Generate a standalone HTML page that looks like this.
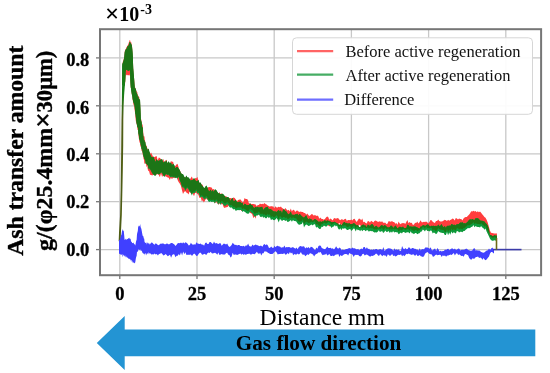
<!DOCTYPE html>
<html><head><meta charset="utf-8"><style>
html,body{margin:0;padding:0;background:#fff;}
body{width:550px;height:373px;overflow:hidden;}
svg{display:block;filter:blur(0.4px);}
text{font-family:'Liberation Serif', 'Times New Roman', serif;}
</style></head><body>
<svg width="550" height="373" viewBox="0 0 550 373">
<defs><linearGradient id="lg" gradientUnits="userSpaceOnUse" x1="0" y1="92" x2="0" y2="118"><stop offset="0" stop-color="#137d18"/><stop offset="1" stop-color="#4e5c12"/></linearGradient><filter id="bl" x="-5%" y="-5%" width="110%" height="110%"><feGaussianBlur stdDeviation="0.6"/></filter></defs>
<rect width="550" height="373" fill="#fff"/>
<g stroke="#c8c8c8" stroke-width="1.3"><line x1="119.8" y1="29" x2="119.8" y2="275"/><line x1="197.0" y1="29" x2="197.0" y2="275"/><line x1="274.2" y1="29" x2="274.2" y2="275"/><line x1="351.4" y1="29" x2="351.4" y2="275"/><line x1="428.6" y1="29" x2="428.6" y2="275"/><line x1="505.8" y1="29" x2="505.8" y2="275"/><line x1="100" y1="249.6" x2="541" y2="249.6"/><line x1="100" y1="201.7" x2="541" y2="201.7"/><line x1="100" y1="153.8" x2="541" y2="153.8"/><line x1="100" y1="105.8" x2="541" y2="105.8"/><line x1="100" y1="57.9" x2="541" y2="57.9"/></g>
<g filter="url(#bl)" stroke-linejoin="round">
<polygon fill="#ff3c3c" points="122.4,64.0 122.8,61.9 123.2,60.5 123.6,59.7 124.0,58.1 124.4,54.9 124.8,51.1 125.2,50.0 125.6,48.8 126.0,49.3 126.4,46.9 126.8,47.0 127.2,45.9 127.6,45.6 128.0,45.1 128.4,43.9 128.8,42.5 129.2,41.7 129.6,40.2 130.0,39.9 130.4,41.5 130.8,42.5 131.2,42.3 131.6,44.0 132.0,45.8 132.4,50.7 132.8,56.8 133.2,68.0 133.6,73.4 134.0,77.5 134.4,81.9 134.8,85.9 135.2,87.7 135.6,88.3 136.0,89.4 136.4,91.2 136.8,91.6 137.2,92.1 137.6,94.2 138.0,95.7 138.4,95.7 138.8,96.8 139.2,97.0 139.6,100.3 140.0,100.7 140.4,109.8 140.8,118.3 141.2,119.5 141.6,121.8 142.0,124.8 142.4,124.1 142.8,126.3 143.2,132.0 143.6,135.7 144.0,136.5 144.4,136.3 144.8,139.9 145.2,141.3 145.6,145.6 146.0,144.5 146.4,146.0 146.8,145.8 147.2,148.3 147.6,148.8 148.0,149.5 148.4,151.9 148.8,150.7 149.2,152.3 149.6,152.2 150.0,154.1 151.1,152.6 152.2,154.9 153.3,156.9 154.4,157.0 155.5,156.6 156.6,156.0 157.7,160.4 158.8,157.4 159.9,158.1 161.0,159.2 162.1,161.0 163.2,158.8 164.3,162.7 165.4,160.5 166.5,159.8 167.6,163.7 168.7,162.9 169.8,164.9 170.9,161.0 172.0,161.7 173.1,161.8 174.2,166.9 175.3,166.0 176.4,164.5 177.5,163.7 178.6,167.3 179.7,170.8 180.8,172.0 181.9,174.9 183.0,176.2 184.1,177.6 185.2,177.0 186.3,177.2 187.4,177.9 188.5,178.1 189.6,179.4 190.7,178.3 191.8,176.5 192.9,178.9 194.0,181.1 195.1,178.0 196.2,178.6 197.3,176.7 198.4,180.3 199.5,182.4 200.6,185.0 201.7,184.0 202.8,185.2 203.9,189.3 205.0,189.1 206.1,187.1 207.2,188.2 208.3,187.2 209.4,186.9 210.5,187.3 211.6,187.4 212.7,189.5 213.8,189.1 214.9,191.1 216.0,190.9 217.1,194.0 218.2,193.9 219.3,192.0 220.4,193.9 221.5,193.3 222.6,194.7 223.7,195.2 224.8,196.6 225.9,196.1 227.0,197.0 228.1,197.7 229.2,198.0 230.3,198.0 231.4,198.6 232.5,197.9 233.6,197.6 234.7,198.1 235.8,199.6 236.9,201.8 238.0,199.9 239.1,199.7 240.2,199.3 241.3,200.6 242.4,202.6 243.5,201.7 244.6,198.1 245.7,199.0 246.8,198.9 247.9,199.7 249.0,203.5 250.1,203.2 251.2,204.0 252.3,204.0 253.4,204.0 254.5,204.2 255.6,204.5 256.7,206.3 257.8,204.9 258.9,204.9 260.0,203.5 261.1,204.2 262.2,203.8 263.3,204.2 264.4,203.0 265.5,203.9 266.6,204.5 267.7,205.6 268.8,206.0 269.9,206.7 271.0,206.1 272.1,206.6 273.2,206.3 274.3,208.2 275.4,206.3 276.5,207.6 277.6,207.4 278.7,206.7 279.8,207.2 280.9,206.6 282.0,207.9 283.1,208.5 284.2,209.7 285.3,208.0 286.4,209.3 287.5,210.6 288.6,209.7 289.7,211.3 290.8,208.4 291.9,211.5 293.0,209.8 294.1,210.0 295.2,212.1 296.3,210.8 297.4,210.6 298.5,211.6 299.6,212.1 300.7,211.4 301.8,212.1 302.9,212.1 304.0,213.1 305.1,212.9 306.2,214.7 307.3,213.5 308.4,215.0 309.5,215.9 310.6,215.0 311.7,214.0 312.8,214.5 313.9,215.7 315.0,214.8 316.1,216.0 317.2,215.4 318.3,216.3 319.4,218.8 320.5,217.4 321.6,218.9 322.7,219.0 323.8,219.7 324.9,218.9 326.0,217.6 327.1,216.5 328.2,217.0 329.3,219.8 330.4,218.5 331.5,219.3 332.6,220.4 333.7,218.5 334.8,218.1 335.9,218.8 337.0,218.3 338.1,218.1 339.2,219.5 340.3,220.3 341.4,219.3 342.5,219.6 343.6,220.0 344.7,218.9 345.8,218.7 346.9,220.9 348.0,220.1 349.1,219.9 350.2,220.2 351.3,219.5 352.4,220.4 353.5,219.0 354.6,218.7 355.7,220.7 356.8,222.1 357.9,220.0 359.0,218.5 360.1,219.1 361.2,220.2 362.3,218.5 363.4,222.2 364.5,221.8 365.6,223.1 366.7,223.6 367.8,220.9 368.9,221.3 370.0,222.5 371.1,220.8 372.2,221.4 373.3,222.4 374.4,220.9 375.5,220.6 376.6,220.9 377.7,221.7 378.8,221.7 379.9,221.3 381.0,222.1 382.1,221.3 383.2,222.7 384.3,222.8 385.4,222.7 386.5,224.2 387.6,223.4 388.7,221.0 389.8,221.6 390.9,221.8 392.0,220.9 393.1,222.0 394.2,222.1 395.3,223.8 396.4,223.1 397.5,224.7 398.6,221.5 399.7,223.5 400.8,224.2 401.9,222.9 403.0,223.3 404.1,223.1 405.2,224.0 406.3,222.0 407.4,220.1 408.5,223.3 409.6,222.0 410.7,222.9 411.8,222.8 412.9,224.9 414.0,224.4 415.1,222.8 416.2,223.1 417.3,221.4 418.4,223.4 419.5,222.3 420.6,220.2 421.7,222.3 422.8,222.2 423.9,221.8 425.0,222.1 426.1,221.5 427.2,222.3 428.3,223.2 429.4,222.0 430.5,219.9 431.6,220.3 432.7,221.8 433.8,222.5 434.9,223.1 436.0,221.0 437.1,221.0 438.2,219.4 439.3,220.9 440.4,221.5 441.5,221.6 442.6,221.3 443.7,220.6 444.8,219.7 445.9,220.3 447.0,221.1 448.1,219.7 449.2,220.7 450.3,220.1 451.4,219.6 452.5,218.5 453.6,218.9 454.7,220.4 455.8,218.0 456.9,218.6 458.0,219.6 459.1,218.5 460.2,219.0 461.3,219.0 462.4,220.6 463.5,218.6 464.6,217.6 465.7,216.9 466.8,216.9 467.9,215.7 469.0,214.8 470.1,213.3 471.2,211.2 472.3,211.6 473.4,210.8 474.5,211.5 475.6,211.1 476.7,212.3 477.8,211.2 478.9,212.2 480.0,211.6 481.1,212.7 482.2,214.2 483.3,215.4 484.4,216.9 485.5,217.7 486.6,219.7 487.7,222.5 488.8,226.6 489.9,230.4 491.0,232.7 492.1,232.9 493.2,233.2 494.3,233.4 495.4,233.5 496.5,233.4 496.9,233.3 496.9,237.2 496.5,237.7 495.4,237.3 494.3,237.0 493.2,236.7 492.1,237.3 491.0,236.7 489.9,235.5 488.8,232.6 487.7,230.3 486.6,227.7 485.5,226.6 484.4,224.5 483.3,223.3 482.2,222.5 481.1,223.3 480.0,224.1 478.9,224.0 477.8,223.9 476.7,223.3 475.6,222.5 474.5,222.5 473.4,224.5 472.3,224.1 471.2,223.9 470.1,223.1 469.0,225.6 467.9,226.2 466.8,225.7 465.7,226.9 464.6,227.1 463.5,226.9 462.4,227.1 461.3,226.3 460.2,228.1 459.1,228.5 458.0,229.4 456.9,228.5 455.8,229.9 454.7,228.5 453.6,229.0 452.5,227.7 451.4,227.0 450.3,228.1 449.2,231.3 448.1,231.3 447.0,230.3 445.9,230.1 444.8,231.6 443.7,230.1 442.6,230.0 441.5,230.6 440.4,230.3 439.3,230.3 438.2,229.8 437.1,229.2 436.0,229.0 434.9,230.1 433.8,230.8 432.7,229.3 431.6,228.9 430.5,229.8 429.4,230.7 428.3,230.8 427.2,229.3 426.1,229.6 425.0,230.3 423.9,227.9 422.8,229.0 421.7,229.4 420.6,229.7 419.5,229.3 418.4,229.5 417.3,229.6 416.2,230.2 415.1,231.0 414.0,230.4 412.9,230.1 411.8,229.5 410.7,229.0 409.6,227.2 408.5,227.7 407.4,227.8 406.3,228.2 405.2,228.6 404.1,230.6 403.0,229.0 401.9,228.9 400.8,229.4 399.7,230.8 398.6,229.5 397.5,229.0 396.4,229.8 395.3,227.9 394.2,228.3 393.1,227.3 392.0,228.6 390.9,227.5 389.8,228.2 388.7,228.8 387.6,231.2 386.5,230.7 385.4,230.1 384.3,229.9 383.2,229.1 382.1,229.4 381.0,228.4 379.9,227.2 378.8,227.2 377.7,228.9 376.6,226.9 375.5,227.8 374.4,226.8 373.3,226.9 372.2,227.5 371.1,228.4 370.0,227.5 368.9,227.4 367.8,229.3 366.7,229.3 365.6,229.4 364.5,228.2 363.4,226.7 362.3,226.1 361.2,226.3 360.1,225.3 359.0,224.4 357.9,227.6 356.8,227.2 355.7,228.9 354.6,227.6 353.5,226.2 352.4,225.6 351.3,225.9 350.2,226.9 349.1,226.6 348.0,225.4 346.9,225.0 345.8,224.8 344.7,226.5 343.6,227.0 342.5,225.7 341.4,224.8 340.3,223.9 339.2,222.7 338.1,224.8 337.0,224.0 335.9,223.0 334.8,225.1 333.7,225.3 332.6,223.7 331.5,225.8 330.4,225.5 329.3,226.5 328.2,225.4 327.1,223.3 326.0,223.3 324.9,224.1 323.8,226.5 322.7,223.2 321.6,224.9 320.5,223.1 319.4,223.2 318.3,222.7 317.2,222.0 316.1,223.0 315.0,220.5 313.9,222.3 312.8,223.8 311.7,222.3 310.6,222.2 309.5,221.6 308.4,223.0 307.3,222.2 306.2,221.8 305.1,223.0 304.0,220.8 302.9,219.5 301.8,222.1 300.7,221.5 299.6,220.6 298.5,222.2 297.4,221.0 296.3,218.7 295.2,220.3 294.1,218.2 293.0,217.9 291.9,218.0 290.8,218.5 289.7,219.6 288.6,218.0 287.5,218.1 286.4,218.1 285.3,219.3 284.2,217.7 283.1,216.8 282.0,215.5 280.9,216.4 279.8,216.1 278.7,216.3 277.6,215.8 276.5,216.4 275.4,216.0 274.3,215.4 273.2,215.9 272.1,215.6 271.0,215.0 269.9,217.2 268.8,215.6 267.7,216.7 266.6,214.6 265.5,213.1 264.4,214.0 263.3,214.7 262.2,216.1 261.1,215.2 260.0,214.4 258.9,214.7 257.8,214.5 256.7,213.5 255.6,218.7 254.5,215.9 253.4,218.2 252.3,214.5 251.2,213.3 250.1,213.1 249.0,211.6 247.9,212.9 246.8,210.4 245.7,209.8 244.6,209.4 243.5,209.4 242.4,210.7 241.3,211.0 240.2,208.8 239.1,209.8 238.0,207.1 236.9,210.1 235.8,207.6 234.7,209.2 233.6,206.9 232.5,207.9 231.4,206.8 230.3,206.0 229.2,204.8 228.1,206.4 227.0,207.2 225.9,207.2 224.8,207.9 223.7,207.2 222.6,203.9 221.5,204.4 220.4,202.6 219.3,204.0 218.2,204.6 217.1,203.0 216.0,202.0 214.9,203.2 213.8,202.0 212.7,199.4 211.6,201.8 210.5,198.8 209.4,198.3 208.3,200.3 207.2,199.5 206.1,198.6 205.0,200.4 203.9,202.4 202.8,200.6 201.7,201.1 200.6,196.5 199.5,198.3 198.4,194.8 197.3,194.0 196.2,192.7 195.1,193.0 194.0,196.3 192.9,193.7 191.8,192.6 190.7,193.3 189.6,191.5 188.5,194.5 187.4,193.0 186.3,192.5 185.2,191.0 184.1,191.9 183.0,194.1 181.9,189.7 180.8,185.6 179.7,183.4 178.6,182.0 177.5,179.8 176.4,176.4 175.3,178.3 174.2,177.9 173.1,177.4 172.0,179.2 170.9,177.5 169.8,180.0 168.7,177.7 167.6,177.4 166.5,176.7 165.4,176.2 164.3,176.3 163.2,175.0 162.1,177.1 161.0,173.3 159.9,177.2 158.8,175.0 157.7,174.0 156.6,175.0 155.5,172.6 154.4,173.8 153.3,174.8 152.2,175.5 151.1,175.1 150.0,174.8 149.6,173.3 149.2,171.5 148.8,170.7 148.4,171.3 148.0,170.0 147.6,168.4 147.2,165.0 146.8,167.2 146.4,166.3 146.0,163.7 145.6,164.1 145.2,163.1 144.8,163.4 144.4,164.0 144.0,159.5 143.6,159.3 143.2,156.0 142.8,155.0 142.4,152.2 142.0,151.0 141.6,151.0 141.2,147.1 140.8,146.7 140.4,146.2 140.0,141.8 139.6,143.3 139.2,140.6 138.8,137.9 138.4,134.7 138.0,130.1 137.6,130.0 137.2,127.2 136.8,124.2 136.4,123.5 136.0,122.0 135.6,119.1 135.2,114.6 134.8,110.9 134.4,108.8 134.0,105.5 133.6,105.0 133.2,103.3 132.8,100.5 132.4,98.6 132.0,94.9 131.6,93.5 131.2,89.6 130.8,88.0 130.4,83.2 130.0,75.0 129.6,74.4 129.2,75.9 128.8,74.9 128.4,75.6 128.0,75.0 127.6,75.4 127.2,74.7 126.8,74.7 126.4,75.5 126.0,74.6 125.6,76.1 125.2,82.5 124.8,85.2 124.4,85.9 124.0,85.1 123.6,84.7 123.2,85.1 122.8,84.7 122.4,84.9"/>
<polygon fill="#0e9a3a" points="122.4,64.3 122.8,63.0 123.2,61.7 123.6,61.1 124.0,58.6 124.4,56.4 124.8,51.9 125.2,50.7 125.6,49.9 126.0,49.2 126.4,48.8 126.8,48.5 127.2,47.3 127.6,46.3 128.0,45.7 128.4,45.9 128.8,45.1 129.2,43.7 129.6,42.3 130.0,42.1 130.4,42.9 130.8,43.4 131.2,44.3 131.6,44.9 132.0,46.7 132.4,51.2 132.8,56.6 133.2,68.6 133.6,73.4 134.0,77.2 134.4,84.3 134.8,88.0 135.2,88.6 135.6,88.4 136.0,89.7 136.4,93.2 136.8,92.7 137.2,94.2 137.6,95.7 138.0,97.9 138.4,96.3 138.8,99.0 139.2,98.9 139.6,100.1 140.0,99.3 140.4,109.0 140.8,118.9 141.2,121.1 141.6,122.5 142.0,126.6 142.4,127.2 142.8,128.2 143.2,135.6 143.6,138.7 144.0,140.7 144.4,139.9 144.8,142.3 145.2,142.1 145.6,144.6 146.0,145.6 146.4,147.3 146.8,147.2 147.2,149.0 147.6,150.9 148.0,148.9 148.4,149.6 148.8,148.5 149.2,151.3 149.6,152.2 150.0,153.9 151.1,156.5 152.2,157.4 153.3,156.5 154.4,159.3 155.5,161.9 156.6,159.0 157.7,161.0 158.8,160.8 159.9,160.3 161.0,159.6 162.1,159.2 163.2,162.7 164.3,161.6 165.4,162.1 166.5,160.4 167.6,163.5 168.7,161.2 169.8,163.4 170.9,162.6 172.0,165.5 173.1,163.7 174.2,165.0 175.3,168.3 176.4,167.3 177.5,166.9 178.6,168.8 179.7,170.1 180.8,173.0 181.9,174.1 183.0,174.2 184.1,176.5 185.2,178.3 186.3,175.5 187.4,177.5 188.5,177.4 189.6,179.1 190.7,180.8 191.8,179.9 192.9,179.9 194.0,178.0 195.1,179.9 196.2,181.2 197.3,181.1 198.4,180.0 199.5,183.2 200.6,182.6 201.7,185.2 202.8,186.2 203.9,188.1 205.0,187.8 206.1,185.5 207.2,187.0 208.3,190.3 209.4,191.5 210.5,189.6 211.6,191.7 212.7,190.1 213.8,192.0 214.9,189.6 216.0,189.8 217.1,191.6 218.2,193.2 219.3,193.5 220.4,193.9 221.5,194.1 222.6,193.8 223.7,194.8 224.8,196.3 225.9,198.0 227.0,197.1 228.1,196.9 229.2,198.3 230.3,201.0 231.4,199.1 232.5,197.9 233.6,201.5 234.7,200.7 235.8,199.7 236.9,202.1 238.0,202.2 239.1,201.7 240.2,201.7 241.3,203.3 242.4,202.4 243.5,205.8 244.6,203.7 245.7,204.3 246.8,205.2 247.9,204.9 249.0,205.1 250.1,203.5 251.2,204.9 252.3,205.2 253.4,207.5 254.5,208.0 255.6,206.7 256.7,207.6 257.8,206.8 258.9,207.7 260.0,207.3 261.1,207.1 262.2,206.8 263.3,210.1 264.4,208.5 265.5,207.5 266.6,207.0 267.7,206.8 268.8,209.4 269.9,209.0 271.0,209.3 272.1,210.2 273.2,211.2 274.3,211.4 275.4,211.5 276.5,212.1 277.6,210.9 278.7,210.1 279.8,211.5 280.9,210.5 282.0,213.5 283.1,209.6 284.2,209.6 285.3,211.1 286.4,211.5 287.5,213.6 288.6,214.5 289.7,213.5 290.8,211.5 291.9,214.9 293.0,214.4 294.1,215.2 295.2,214.3 296.3,214.3 297.4,213.8 298.5,215.6 299.6,213.7 300.7,215.0 301.8,216.3 302.9,217.0 304.0,217.7 305.1,216.4 306.2,215.3 307.3,218.0 308.4,219.5 309.5,218.6 310.6,219.0 311.7,219.5 312.8,220.9 313.9,219.8 315.0,219.0 316.1,219.8 317.2,220.6 318.3,221.7 319.4,221.8 320.5,221.6 321.6,222.0 322.7,221.2 323.8,221.4 324.9,219.8 326.0,221.5 327.1,220.4 328.2,220.8 329.3,221.3 330.4,221.4 331.5,222.3 332.6,222.3 333.7,222.0 334.8,221.7 335.9,222.7 337.0,223.0 338.1,224.1 339.2,224.9 340.3,224.1 341.4,225.4 342.5,224.1 343.6,222.6 344.7,222.1 345.8,223.6 346.9,222.8 348.0,223.9 349.1,223.1 350.2,224.1 351.3,223.9 352.4,224.1 353.5,223.3 354.6,223.4 355.7,224.7 356.8,225.5 357.9,224.9 359.0,226.9 360.1,227.2 361.2,225.7 362.3,225.1 363.4,224.5 364.5,225.6 365.6,225.4 366.7,227.3 367.8,224.4 368.9,225.3 370.0,226.0 371.1,224.5 372.2,224.1 373.3,225.3 374.4,227.0 375.5,226.2 376.6,225.7 377.7,227.4 378.8,227.6 379.9,226.7 381.0,225.4 382.1,225.1 383.2,226.5 384.3,225.2 385.4,225.6 386.5,226.5 387.6,227.4 388.7,227.6 389.8,227.0 390.9,225.6 392.0,225.9 393.1,227.7 394.2,227.1 395.3,225.4 396.4,226.7 397.5,228.4 398.6,227.5 399.7,226.7 400.8,226.9 401.9,227.5 403.0,226.6 404.1,228.3 405.2,228.1 406.3,227.9 407.4,224.8 408.5,224.9 409.6,226.8 410.7,226.4 411.8,226.8 412.9,226.7 414.0,226.4 415.1,226.6 416.2,227.0 417.3,227.4 418.4,227.9 419.5,228.7 420.6,226.4 421.7,226.4 422.8,225.2 423.9,225.2 425.0,226.0 426.1,225.4 427.2,224.4 428.3,224.4 429.4,225.9 430.5,226.5 431.6,225.8 432.7,226.0 433.8,225.8 434.9,226.3 436.0,225.7 437.1,226.5 438.2,224.4 439.3,226.1 440.4,225.7 441.5,224.1 442.6,226.2 443.7,227.2 444.8,226.0 445.9,228.1 447.0,225.8 448.1,225.9 449.2,225.5 450.3,226.1 451.4,223.9 452.5,224.5 453.6,225.0 454.7,224.8 455.8,225.6 456.9,224.1 458.0,224.4 459.1,223.8 460.2,222.6 461.3,222.8 462.4,222.3 463.5,223.6 464.6,223.2 465.7,223.5 466.8,222.6 467.9,221.4 469.0,219.9 470.1,219.3 471.2,219.7 472.3,219.1 473.4,219.8 474.5,220.1 475.6,218.2 476.7,218.2 477.8,218.3 478.9,218.9 480.0,220.4 481.1,220.7 482.2,220.7 483.3,221.2 484.4,221.4 485.5,222.9 486.6,223.9 487.7,225.6 488.8,229.1 489.9,235.1 491.0,234.9 492.1,236.0 493.2,236.2 494.3,235.3 495.4,235.5 496.5,235.7 496.9,235.3 496.9,240.9 496.5,240.9 495.4,240.6 494.3,240.2 493.2,240.8 492.1,240.7 491.0,240.0 489.9,238.5 488.8,236.0 487.7,233.8 486.6,231.6 485.5,228.6 484.4,229.7 483.3,228.1 482.2,227.5 481.1,226.1 480.0,227.6 478.9,227.0 477.8,227.0 476.7,226.7 475.6,226.1 474.5,227.3 473.4,225.1 472.3,226.7 471.2,226.9 470.1,227.9 469.0,228.3 467.9,228.1 466.8,229.1 465.7,229.8 464.6,231.0 463.5,231.0 462.4,232.3 461.3,231.8 460.2,231.7 459.1,232.4 458.0,231.3 456.9,231.1 455.8,233.5 454.7,232.8 453.6,232.2 452.5,233.5 451.4,231.5 450.3,234.8 449.2,232.6 448.1,235.2 447.0,232.1 445.9,234.9 444.8,235.0 443.7,233.1 442.6,232.9 441.5,232.7 440.4,232.5 439.3,232.0 438.2,231.0 437.1,233.2 436.0,234.2 434.9,232.9 433.8,232.6 432.7,233.5 431.6,230.8 430.5,230.5 429.4,231.6 428.3,230.7 427.2,230.9 426.1,229.3 425.0,231.6 423.9,230.3 422.8,229.5 421.7,231.6 420.6,231.7 419.5,233.3 418.4,233.4 417.3,234.2 416.2,232.9 415.1,232.9 414.0,234.3 412.9,233.3 411.8,233.3 410.7,231.3 409.6,233.4 408.5,232.2 407.4,232.3 406.3,232.5 405.2,232.9 404.1,232.1 403.0,232.1 401.9,233.4 400.8,232.6 399.7,233.6 398.6,234.2 397.5,232.2 396.4,232.2 395.3,231.9 394.2,232.6 393.1,231.1 392.0,232.7 390.9,231.4 389.8,232.9 388.7,231.0 387.6,231.7 386.5,232.0 385.4,230.6 384.3,231.9 383.2,233.0 382.1,230.9 381.0,231.6 379.9,232.0 378.8,230.2 377.7,231.7 376.6,232.6 375.5,232.3 374.4,232.6 373.3,231.8 372.2,231.1 371.1,231.2 370.0,230.7 368.9,231.7 367.8,230.3 366.7,230.3 365.6,231.2 364.5,230.1 363.4,229.9 362.3,231.3 361.2,229.7 360.1,231.2 359.0,229.8 357.9,230.2 356.8,229.0 355.7,231.4 354.6,228.7 353.5,228.5 352.4,229.9 351.3,230.9 350.2,229.0 349.1,229.3 348.0,229.9 346.9,230.0 345.8,228.6 344.7,228.3 343.6,228.8 342.5,228.3 341.4,230.3 340.3,228.2 339.2,229.7 338.1,228.4 337.0,225.5 335.9,226.5 334.8,224.9 333.7,226.5 332.6,226.8 331.5,228.0 330.4,226.2 329.3,225.3 328.2,224.8 327.1,226.1 326.0,226.8 324.9,225.9 323.8,225.4 322.7,227.0 321.6,226.8 320.5,228.9 319.4,229.0 318.3,228.0 317.2,226.7 316.1,227.7 315.0,224.3 313.9,224.3 312.8,225.5 311.7,224.5 310.6,225.0 309.5,225.7 308.4,225.9 307.3,224.9 306.2,224.5 305.1,225.5 304.0,227.5 302.9,221.9 301.8,224.0 300.7,224.2 299.6,224.8 298.5,224.4 297.4,223.2 296.3,221.6 295.2,221.1 294.1,220.9 293.0,220.1 291.9,221.7 290.8,220.0 289.7,221.0 288.6,221.7 287.5,222.0 286.4,220.2 285.3,220.9 284.2,220.0 283.1,220.1 282.0,221.3 280.9,219.5 279.8,219.2 278.7,222.4 277.6,219.6 276.5,218.1 275.4,219.4 274.3,220.2 273.2,220.0 272.1,219.1 271.0,220.3 269.9,217.0 268.8,218.2 267.7,216.5 266.6,218.3 265.5,218.3 264.4,217.0 263.3,217.8 262.2,216.3 261.1,217.2 260.0,216.4 258.9,214.2 257.8,215.6 256.7,215.3 255.6,216.2 254.5,216.7 253.4,214.7 252.3,213.0 251.2,212.7 250.1,211.2 249.0,213.5 247.9,213.8 246.8,213.4 245.7,212.5 244.6,211.8 243.5,211.0 242.4,212.0 241.3,210.0 240.2,210.0 239.1,210.3 238.0,209.9 236.9,210.3 235.8,211.1 234.7,209.1 233.6,209.4 232.5,208.5 231.4,207.2 230.3,207.7 229.2,206.7 228.1,204.8 227.0,204.2 225.9,205.5 224.8,205.9 223.7,205.0 222.6,203.7 221.5,202.8 220.4,205.0 219.3,202.6 218.2,204.8 217.1,201.9 216.0,201.3 214.9,203.4 213.8,201.7 212.7,201.7 211.6,202.0 210.5,201.3 209.4,201.9 208.3,201.2 207.2,198.7 206.1,197.8 205.0,199.4 203.9,198.9 202.8,197.5 201.7,196.6 200.6,198.1 199.5,195.2 198.4,192.7 197.3,193.5 196.2,190.7 195.1,192.9 194.0,193.0 192.9,193.1 191.8,195.5 190.7,192.6 189.6,191.8 188.5,189.6 187.4,188.0 186.3,189.0 185.2,190.9 184.1,187.4 183.0,187.8 181.9,186.7 180.8,182.8 179.7,180.7 178.6,176.8 177.5,178.7 176.4,177.7 175.3,178.1 174.2,177.0 173.1,177.8 172.0,176.5 170.9,177.5 169.8,176.5 168.7,174.8 167.6,175.0 166.5,174.3 165.4,174.8 164.3,177.1 163.2,175.4 162.1,173.0 161.0,172.6 159.9,174.1 158.8,174.6 157.7,173.8 156.6,173.7 155.5,175.7 154.4,175.4 153.3,174.5 152.2,173.2 151.1,170.9 150.0,169.1 149.6,169.4 149.2,167.4 148.8,168.4 148.4,168.9 148.0,164.9 147.6,165.4 147.2,165.0 146.8,164.0 146.4,163.7 146.0,164.2 145.6,162.4 145.2,159.6 144.8,159.6 144.4,158.9 144.0,157.5 143.6,156.5 143.2,154.8 142.8,152.9 142.4,150.6 142.0,148.2 141.6,149.8 141.2,145.9 140.8,144.9 140.4,142.7 140.0,140.7 139.6,139.4 139.2,139.1 138.8,134.7 138.4,133.3 138.0,127.7 137.6,127.3 137.2,126.3 136.8,123.9 136.4,121.4 136.0,118.2 135.6,114.2 135.2,112.9 134.8,107.1 134.4,105.0 134.0,103.8 133.6,102.5 133.2,101.4 132.8,99.6 132.4,96.3 132.0,95.1 131.6,92.2 131.2,90.1 130.8,87.3 130.4,81.0 130.0,70.7 129.6,70.3 129.2,70.1 128.8,71.2 128.4,70.4 128.0,70.8 127.6,69.9 127.2,70.8 126.8,69.4 126.4,70.1 126.0,69.9 125.6,72.0 125.2,81.0 124.8,84.7 124.4,85.3 124.0,85.4 123.6,85.1 123.2,85.5 122.8,84.9 122.4,84.6"/>
<polygon fill="#1f7512" points="122.4,64.3 122.8,63.0 123.2,61.7 123.6,61.1 124.0,58.6 124.4,56.4 124.8,51.9 125.2,50.7 125.6,49.9 126.0,49.2 126.4,48.8 126.8,48.5 127.2,47.3 127.6,46.3 128.0,45.7 128.4,45.9 128.8,45.1 129.2,43.7 129.6,42.3 130.0,42.1 130.4,42.9 130.8,43.4 131.2,44.3 131.6,44.9 132.0,46.7 132.4,51.2 132.8,56.6 133.2,68.6 133.6,73.4 134.0,77.2 134.4,84.3 134.8,88.0 135.2,88.6 135.6,88.4 136.0,89.7 136.4,93.2 136.8,92.7 137.2,94.2 137.6,95.7 138.0,97.9 138.4,96.3 138.8,99.0 139.2,98.9 139.6,100.1 140.0,99.3 140.4,109.0 140.8,118.9 141.2,121.1 141.6,122.5 142.0,126.6 142.4,127.2 142.8,128.2 143.2,135.6 143.6,138.7 144.0,140.7 144.4,139.9 144.8,142.3 145.2,142.1 145.6,144.6 146.0,145.6 146.4,147.3 146.8,147.2 147.2,149.0 147.6,150.9 148.0,148.9 148.4,149.6 148.8,148.5 149.2,151.3 149.6,152.2 150.0,153.9 151.1,156.5 152.2,157.4 153.3,156.5 154.4,159.3 155.5,161.9 156.6,159.0 157.7,161.0 158.8,160.8 159.9,160.3 161.0,159.6 162.1,159.2 163.2,162.7 164.3,161.6 165.4,162.1 166.5,160.4 167.6,163.5 168.7,161.2 169.8,163.4 170.9,162.6 172.0,165.5 173.1,163.7 174.2,165.0 175.3,168.3 176.4,167.3 177.5,166.9 178.6,168.8 179.7,170.1 180.8,173.0 181.9,174.1 183.0,174.2 184.1,176.5 185.2,178.3 186.3,175.5 187.4,177.5 188.5,177.4 189.6,179.1 190.7,180.8 191.8,179.9 192.9,179.9 194.0,178.0 195.1,179.9 196.2,181.2 197.3,181.1 198.4,180.0 199.5,183.2 200.6,182.6 201.7,185.2 202.8,186.2 203.9,188.1 205.0,187.8 206.1,185.5 207.2,187.0 208.3,190.3 209.4,191.5 210.5,189.6 211.6,191.7 212.7,190.1 213.8,192.0 214.9,189.6 216.0,189.8 217.1,191.6 218.2,193.2 219.3,193.5 220.4,193.9 221.5,194.1 222.6,193.8 223.7,194.8 224.8,196.3 225.9,198.0 227.0,197.1 228.1,196.9 229.2,198.3 230.3,201.0 231.4,199.1 232.5,197.9 233.6,201.5 234.7,200.7 235.8,199.7 236.9,202.1 238.0,202.2 239.1,201.7 240.2,201.7 241.3,203.3 242.4,202.4 243.5,205.8 244.6,203.7 245.7,204.3 246.8,205.2 247.9,204.9 249.0,205.1 250.1,203.5 251.2,204.9 252.3,205.2 253.4,207.5 254.5,208.0 255.6,206.7 256.7,207.6 257.8,206.8 258.9,207.7 260.0,207.3 261.1,207.1 262.2,206.8 263.3,210.1 264.4,208.5 265.5,207.5 266.6,207.0 267.7,206.8 268.8,209.4 269.9,209.0 271.0,209.3 272.1,210.2 273.2,211.2 274.3,211.4 275.4,211.5 276.5,212.1 277.6,210.9 278.7,210.1 279.8,211.5 280.9,210.5 282.0,213.5 283.1,209.6 284.2,209.6 285.3,211.1 286.4,211.5 287.5,213.6 288.6,214.5 289.7,213.5 290.8,211.5 291.9,214.9 293.0,214.4 294.1,215.2 295.2,214.3 296.3,214.3 297.4,213.8 298.5,215.6 299.6,213.7 300.7,215.0 301.8,216.3 302.9,217.0 304.0,217.7 305.1,216.4 306.2,215.3 307.3,218.0 308.4,219.5 309.5,218.6 310.6,219.0 311.7,219.5 312.8,220.9 313.9,219.8 315.0,219.0 316.1,219.8 317.2,220.6 318.3,221.7 319.4,221.8 320.5,221.6 321.6,222.0 322.7,221.2 323.8,221.4 324.9,219.8 326.0,221.5 327.1,220.4 328.2,220.8 329.3,221.3 330.4,221.4 331.5,222.3 332.6,222.3 333.7,222.0 334.8,221.7 335.9,222.7 337.0,223.0 338.1,224.1 339.2,224.9 340.3,224.1 341.4,225.4 342.5,224.1 343.6,222.6 344.7,222.1 345.8,223.6 346.9,222.8 348.0,223.9 349.1,223.1 350.2,224.1 351.3,223.9 352.4,224.1 353.5,223.3 354.6,223.4 355.7,224.7 356.8,225.5 357.9,224.9 359.0,226.9 360.1,227.2 361.2,225.7 362.3,225.1 363.4,224.5 364.5,225.6 365.6,225.4 366.7,227.3 367.8,224.4 368.9,225.3 370.0,226.0 371.1,224.5 372.2,224.1 373.3,225.3 374.4,227.0 375.5,226.2 376.6,225.7 377.7,227.4 378.8,227.6 379.9,226.7 381.0,225.4 382.1,225.1 383.2,226.5 384.3,225.2 385.4,225.6 386.5,226.5 387.6,227.4 388.7,227.6 389.8,227.0 390.9,225.6 392.0,225.9 393.1,227.7 394.2,227.1 395.3,225.4 396.4,226.7 397.5,228.4 398.6,227.5 399.7,226.7 400.8,226.9 401.9,227.5 403.0,226.6 404.1,228.3 405.2,228.1 406.3,227.9 407.4,224.8 408.5,224.9 409.6,226.8 410.7,226.4 411.8,226.8 412.9,226.7 414.0,226.4 415.1,226.6 416.2,227.0 417.3,227.4 418.4,227.9 419.5,228.7 420.6,226.4 421.7,226.4 422.8,225.2 423.9,225.2 425.0,226.0 426.1,225.4 427.2,224.4 428.3,224.4 429.4,225.9 430.5,226.5 431.6,225.8 432.7,226.0 433.8,225.8 434.9,226.3 436.0,225.7 437.1,226.5 438.2,224.4 439.3,226.1 440.4,225.7 441.5,224.1 442.6,226.2 443.7,227.2 444.8,226.0 445.9,228.1 447.0,225.8 448.1,225.9 449.2,225.5 450.3,226.1 451.4,223.9 452.5,224.5 453.6,225.0 454.7,224.8 455.8,225.6 456.9,224.1 458.0,224.4 459.1,223.8 460.2,222.6 461.3,222.8 462.4,222.3 463.5,223.6 464.6,223.2 465.7,223.5 466.8,222.6 467.9,221.4 469.0,219.9 470.1,219.3 471.2,219.7 472.3,219.1 473.4,219.8 474.5,220.1 475.6,218.2 476.7,218.2 477.8,218.3 478.9,218.9 480.0,220.4 481.1,220.7 482.2,220.7 483.3,221.2 484.4,221.4 485.5,222.9 486.6,223.9 487.7,225.6 488.8,229.1 489.9,235.1 491.0,234.9 492.1,236.0 493.2,236.2 494.3,235.3 495.4,235.5 496.5,235.7 496.9,235.3 496.9,237.9 496.5,237.9 495.4,237.6 494.3,237.2 493.2,237.8 492.1,237.7 491.0,237.0 489.9,235.9 488.8,233.0 487.7,230.8 486.6,228.6 485.5,225.6 484.4,226.7 483.3,225.1 482.2,224.5 481.1,223.1 480.0,224.6 478.9,224.0 477.8,224.0 476.7,223.7 475.6,223.1 474.5,224.3 473.4,222.1 472.3,223.7 471.2,223.9 470.1,224.9 469.0,225.3 467.9,225.1 466.8,226.1 465.7,226.8 464.6,228.0 463.5,228.0 462.4,229.3 461.3,228.8 460.2,228.7 459.1,229.4 458.0,228.3 456.9,228.1 455.8,230.5 454.7,229.8 453.6,229.2 452.5,230.5 451.4,228.5 450.3,231.8 449.2,229.6 448.1,232.2 447.0,229.1 445.9,231.9 444.8,232.0 443.7,230.1 442.6,229.9 441.5,229.7 440.4,229.5 439.3,229.0 438.2,228.0 437.1,230.2 436.0,231.2 434.9,229.9 433.8,229.6 432.7,230.5 431.6,227.8 430.5,227.5 429.4,228.6 428.3,227.7 427.2,227.9 426.1,226.3 425.0,228.6 423.9,227.3 422.8,226.5 421.7,228.6 420.6,228.7 419.5,230.3 418.4,230.4 417.3,231.2 416.2,229.9 415.1,229.9 414.0,231.3 412.9,230.3 411.8,230.3 410.7,228.3 409.6,230.4 408.5,229.2 407.4,229.3 406.3,229.5 405.2,229.9 404.1,229.1 403.0,229.1 401.9,230.4 400.8,229.6 399.7,230.6 398.6,231.2 397.5,229.2 396.4,229.2 395.3,228.9 394.2,229.6 393.1,228.5 392.0,229.7 390.9,228.4 389.8,229.9 388.7,228.4 387.6,228.7 386.5,229.0 385.4,227.6 384.3,228.9 383.2,230.0 382.1,227.9 381.0,228.6 379.9,229.0 378.8,228.4 377.7,228.7 376.6,229.6 375.5,229.3 374.4,229.6 373.3,228.8 372.2,228.1 371.1,228.2 370.0,227.7 368.9,228.7 367.8,227.3 366.7,228.1 365.6,228.2 364.5,227.1 363.4,226.9 362.3,228.3 361.2,226.7 360.1,228.2 359.0,227.7 357.9,227.2 356.8,226.3 355.7,228.4 354.6,225.7 353.5,225.5 352.4,226.9 351.3,227.9 350.2,226.0 349.1,226.3 348.0,226.9 346.9,227.0 345.8,225.6 344.7,225.3 343.6,225.8 342.5,225.3 341.4,227.3 340.3,225.2 339.2,226.7 338.1,225.4 337.0,223.8 335.9,223.5 334.8,222.5 333.7,223.5 332.6,223.8 331.5,225.0 330.4,223.2 329.3,222.3 328.2,221.8 327.1,223.1 326.0,223.8 324.9,222.9 323.8,222.4 322.7,224.0 321.6,223.8 320.5,225.9 319.4,226.0 318.3,225.0 317.2,223.7 316.1,224.7 315.0,221.3 313.9,221.3 312.8,222.5 311.7,221.5 310.6,222.0 309.5,222.7 308.4,222.9 307.3,221.9 306.2,221.5 305.1,222.5 304.0,224.5 302.9,218.9 301.8,221.0 300.7,221.2 299.6,221.8 298.5,221.4 297.4,220.2 296.3,218.6 295.2,218.1 294.1,217.9 293.0,217.1 291.9,218.7 290.8,217.0 289.7,218.0 288.6,218.7 287.5,219.0 286.4,217.2 285.3,217.9 284.2,217.0 283.1,217.1 282.0,218.3 280.9,216.5 279.8,216.2 278.7,219.4 277.6,216.6 276.5,215.1 275.4,216.4 274.3,217.2 273.2,217.0 272.1,216.1 271.0,217.3 269.9,214.0 268.8,215.2 267.7,213.5 266.6,215.3 265.5,215.3 264.4,214.0 263.3,214.8 262.2,213.3 261.1,214.2 260.0,213.4 258.9,211.2 257.8,212.7 256.7,212.4 255.6,213.3 254.5,213.7 253.4,211.7 252.3,210.0 251.2,209.8 250.1,208.3 249.0,210.6 247.9,211.0 246.8,210.5 245.7,209.6 244.6,209.0 243.5,208.2 242.4,209.2 241.3,207.3 240.2,207.3 239.1,207.6 238.0,207.2 236.9,207.7 235.8,208.6 234.7,206.6 233.6,206.9 232.5,206.0 231.4,204.7 230.3,205.3 229.2,204.3 228.1,202.4 227.0,201.9 225.9,203.3 224.8,203.6 223.7,202.8 222.6,201.5 221.5,200.7 220.4,202.9 219.3,200.5 218.2,202.7 217.1,199.9 216.0,199.3 214.9,201.5 213.8,199.8 212.7,199.8 211.6,200.1 210.5,199.5 209.4,200.1 208.3,199.4 207.2,197.0 206.1,196.1 205.0,197.7 203.9,197.3 202.8,195.9 201.7,195.1 200.6,196.6 199.5,193.7 198.4,191.3 197.3,192.1 196.2,189.3 195.1,191.6 194.0,191.6 192.9,191.8 191.8,194.3 190.7,191.3 189.6,190.6 188.5,188.5 187.4,186.8 186.3,187.8 185.2,189.8 184.1,186.3 183.0,186.8 181.9,185.7 180.8,181.8 179.7,179.8 178.6,175.9 177.5,177.8 176.4,176.8 175.3,177.3 174.2,176.2 173.1,177.0 172.0,175.8 170.9,176.7 169.8,175.8 168.7,174.2 167.6,174.4 166.5,173.7 165.4,174.2 164.3,176.5 163.2,174.9 162.1,172.5 161.0,172.1 159.9,173.7 158.8,174.2 157.7,173.4 156.6,173.4 155.5,175.4 154.4,175.2 153.3,174.2 152.2,173.0 151.1,170.8 150.0,169.0 149.6,169.3 149.2,167.3 148.8,168.2 148.4,168.9 148.0,164.8 147.6,165.4 147.2,164.9 146.8,163.9 146.4,163.6 146.0,164.1 145.6,162.4 145.2,159.6 144.8,159.6 144.4,158.9 144.0,157.5 143.6,156.5 143.2,154.8 142.8,152.9 142.4,150.6 142.0,148.2 141.6,149.8 141.2,145.9 140.8,144.9 140.4,142.7 140.0,140.7 139.6,139.4 139.2,139.1 138.8,134.7 138.4,133.3 138.0,127.7 137.6,127.3 137.2,126.3 136.8,123.9 136.4,121.4 136.0,118.2 135.6,114.2 135.2,112.9 134.8,107.1 134.4,105.0 134.0,103.8 133.6,102.5 133.2,101.4 132.8,99.6 132.4,96.3 132.0,95.1 131.6,92.2 131.2,90.1 130.8,87.3 130.4,81.0 130.0,70.7 129.6,70.3 129.2,70.1 128.8,71.2 128.4,70.4 128.0,70.8 127.6,69.9 127.2,70.8 126.8,69.4 126.4,70.1 126.0,69.9 125.6,72.0 125.2,81.0 124.8,84.7 124.4,85.3 124.0,85.4 123.6,85.1 123.2,85.5 122.8,84.9 122.4,84.6"/>
<polygon fill="url(#lg)" points="118.7,241.0 119.0,233.0 120.1,215.0 120.7,190.0 121.2,150.0 121.5,120.0 121.8,106.0 122.0,90.0 122.2,80.0 122.4,64.0 124.0,70.0 125.0,78.0 124.9,85.0 124.1,95.0 123.6,106.0 123.3,120.0 123.2,145.0 122.8,170.0 122.4,190.0 121.8,215.0 120.9,233.0 120.5,244.0"/>
<polygon fill="#3f3fff" points="119.0,239.4 119.4,239.9 119.8,240.1 120.2,238.3 120.6,237.3 121.0,235.4 121.4,235.1 121.8,232.6 122.2,230.3 122.6,228.9 123.0,231.2 123.4,230.3 123.8,231.2 124.2,235.5 124.6,240.0 125.0,239.6 125.4,239.5 125.8,238.8 126.2,238.7 126.6,240.2 127.0,239.3 127.4,239.1 127.8,239.0 128.2,237.9 128.6,238.6 129.0,238.2 129.4,239.0 129.8,237.5 130.2,239.3 130.6,238.6 131.0,241.4 131.4,241.7 131.8,242.0 132.2,243.3 132.6,243.1 133.0,242.9 133.4,242.5 133.8,243.3 134.2,244.8 134.6,244.1 135.0,244.3 135.4,245.8 135.8,242.7 136.2,240.7 136.6,240.0 137.0,234.3 137.4,232.5 137.8,230.9 138.2,226.5 138.6,226.5 139.0,225.3 139.4,226.5 139.8,226.0 140.2,224.0 140.6,227.0 141.0,228.1 141.4,228.9 141.8,231.2 142.2,233.6 142.6,235.4 143.0,236.3 143.4,236.3 143.8,238.5 144.2,238.7 144.6,242.2 145.0,242.2 145.4,243.1 145.8,243.0 146.2,242.6 146.6,244.7 147.0,241.8 147.4,243.1 147.8,243.5 148.2,242.8 148.6,243.5 149.0,244.1 149.4,243.3 149.8,244.7 150.2,244.0 151.3,242.5 152.4,242.8 153.5,244.1 154.6,244.8 155.7,243.3 156.8,243.9 157.9,245.0 159.0,245.3 160.1,243.7 161.2,243.7 162.3,243.5 163.4,243.4 164.5,244.2 165.6,244.3 166.7,243.6 167.8,243.8 168.9,244.6 170.0,243.8 171.1,242.9 172.2,242.9 173.3,243.8 174.4,244.4 175.5,246.0 176.6,244.8 177.7,243.3 178.8,243.1 179.9,243.3 181.0,242.4 182.1,243.5 183.2,242.3 184.3,243.4 185.4,242.2 186.5,242.8 187.6,243.7 188.7,245.6 189.8,245.1 190.9,242.8 192.0,244.2 193.1,244.7 194.2,244.2 195.3,244.7 196.4,242.2 197.5,243.6 198.6,243.8 199.7,244.0 200.8,243.6 201.9,244.7 203.0,244.6 204.1,245.7 205.2,243.0 206.3,242.6 207.4,244.1 208.5,243.9 209.6,242.0 210.7,242.0 211.8,243.3 212.9,243.9 214.0,241.4 215.1,243.5 216.2,243.1 217.3,243.6 218.4,243.9 219.5,243.2 220.6,243.3 221.7,245.7 222.8,244.5 223.9,243.4 225.0,244.0 226.1,244.5 227.2,243.4 228.3,245.8 229.4,246.9 230.5,246.2 231.6,245.1 232.7,242.8 233.8,243.9 234.9,245.1 236.0,244.8 237.1,245.4 238.2,245.0 239.3,244.9 240.4,246.0 241.5,246.0 242.6,246.2 243.7,245.8 244.8,246.7 245.9,245.3 247.0,245.7 248.1,243.5 249.2,246.0 250.3,246.6 251.4,246.6 252.5,244.4 253.6,245.7 254.7,244.9 255.8,244.5 256.9,245.3 258.0,245.3 259.1,246.2 260.2,245.8 261.3,245.8 262.4,246.7 263.5,244.7 264.6,244.1 265.7,245.2 266.8,244.3 267.9,245.4 269.0,248.1 270.1,247.7 271.2,246.4 272.3,247.7 273.4,247.9 274.5,245.7 275.6,247.2 276.7,245.9 277.8,245.8 278.9,246.5 280.0,246.6 281.1,247.7 282.2,247.3 283.3,247.4 284.4,245.4 285.5,247.8 286.6,247.0 287.7,247.3 288.8,247.1 289.9,247.3 291.0,248.1 292.1,247.3 293.2,247.2 294.3,247.9 295.4,248.8 296.5,247.4 297.6,249.3 298.7,247.3 299.8,246.2 300.9,245.9 302.0,246.7 303.1,246.2 304.2,246.5 305.3,248.5 306.4,247.3 307.5,248.1 308.6,247.1 309.7,248.6 310.8,246.7 311.9,246.9 313.0,247.8 314.1,249.3 315.2,250.2 316.3,247.6 317.4,248.7 318.5,246.0 319.6,245.5 320.7,245.8 321.8,248.1 322.9,248.5 324.0,249.0 325.1,249.3 326.2,247.9 327.3,246.5 328.4,247.9 329.5,248.1 330.6,247.7 331.7,248.7 332.8,248.3 333.9,249.6 335.0,248.2 336.1,246.2 337.2,247.9 338.3,248.8 339.4,247.4 340.5,248.2 341.6,250.3 342.7,249.5 343.8,250.1 344.9,249.8 346.0,248.9 347.1,249.0 348.2,248.4 349.3,248.1 350.4,248.5 351.5,248.5 352.6,247.6 353.7,248.6 354.8,248.2 355.9,249.0 357.0,249.6 358.1,248.8 359.2,250.3 360.3,249.2 361.4,248.4 362.5,249.2 363.6,246.9 364.7,247.1 365.8,249.1 366.9,247.3 368.0,249.0 369.1,248.7 370.2,250.1 371.3,249.5 372.4,249.9 373.5,249.3 374.6,249.8 375.7,249.1 376.8,248.9 377.9,250.1 379.0,249.5 380.1,248.9 381.2,249.5 382.3,250.1 383.4,247.0 384.5,251.0 385.6,249.9 386.7,249.1 387.8,248.6 388.9,248.3 390.0,248.4 391.1,248.7 392.2,249.6 393.3,250.7 394.4,248.3 395.5,250.1 396.6,249.3 397.7,249.9 398.8,249.3 399.9,250.9 401.0,250.8 402.1,246.1 403.2,248.4 404.3,249.2 405.4,248.0 406.5,249.3 407.6,248.9 408.7,247.3 409.8,247.8 410.9,249.2 412.0,247.9 413.1,248.0 414.2,248.8 415.3,248.8 416.4,249.6 417.5,249.6 418.6,250.6 419.7,248.2 420.8,250.5 421.9,249.1 423.0,249.3 424.1,249.3 425.2,247.4 426.3,247.6 427.4,247.5 428.5,247.9 429.6,248.7 430.7,247.3 431.8,250.2 432.9,250.3 434.0,249.0 435.1,248.4 436.2,251.1 437.3,248.0 438.4,249.2 439.5,251.5 440.6,250.7 441.7,251.5 442.8,251.0 443.9,251.1 445.0,249.4 446.1,249.9 447.2,249.1 448.3,248.8 449.4,250.3 450.5,249.2 451.6,248.5 452.7,248.6 453.8,249.4 454.9,248.6 456.0,249.9 457.1,249.4 458.2,248.5 459.3,248.8 460.4,250.5 461.5,249.8 462.6,249.8 463.7,249.8 464.8,249.4 465.9,248.8 467.0,248.7 468.1,250.1 469.2,250.3 470.3,250.8 471.4,250.7 472.5,250.2 473.6,248.5 474.7,248.2 475.8,250.7 476.9,250.0 478.0,250.7 479.1,250.3 480.2,251.3 481.3,251.9 482.4,252.5 483.5,252.7 484.6,252.2 485.7,251.2 486.8,250.6 487.9,250.3 489.0,248.4 490.1,249.9 491.2,248.6 492.3,247.4 493.4,249.0 494.0,249.5 494.0,253.2 493.4,253.3 492.3,252.1 491.2,252.0 490.1,253.3 489.0,256.6 487.9,257.7 486.8,259.2 485.7,260.2 484.6,259.6 483.5,258.1 482.4,259.8 481.3,257.9 480.2,257.6 479.1,258.1 478.0,256.6 476.9,257.1 475.8,257.0 474.7,258.4 473.6,258.7 472.5,258.3 471.4,259.8 470.3,259.2 469.2,257.9 468.1,255.2 467.0,254.8 465.9,253.9 464.8,254.3 463.7,256.7 462.6,255.8 461.5,256.1 460.4,255.2 459.3,254.2 458.2,254.9 457.1,253.2 456.0,253.4 454.9,255.6 453.8,253.0 452.7,253.9 451.6,255.0 450.5,254.5 449.4,254.9 448.3,255.5 447.2,255.6 446.1,256.8 445.0,255.5 443.9,256.1 442.8,255.2 441.7,256.9 440.6,255.1 439.5,254.7 438.4,254.9 437.3,255.2 436.2,254.5 435.1,255.2 434.0,256.4 432.9,256.8 431.8,254.5 430.7,254.2 429.6,253.9 428.5,253.0 427.4,252.1 426.3,252.8 425.2,253.6 424.1,255.9 423.0,257.0 421.9,256.4 420.8,256.3 419.7,255.0 418.6,255.8 417.5,255.9 416.4,254.2 415.3,255.7 414.2,255.2 413.1,254.0 412.0,255.0 410.9,254.4 409.8,254.3 408.7,253.5 407.6,254.3 406.5,253.8 405.4,255.1 404.3,256.2 403.2,255.1 402.1,256.3 401.0,254.2 399.9,255.1 398.8,254.7 397.7,254.9 396.6,256.1 395.5,256.4 394.4,255.6 393.3,256.1 392.2,254.0 391.1,254.9 390.0,255.9 388.9,254.9 387.8,254.2 386.7,256.9 385.6,255.4 384.5,255.6 383.4,255.1 382.3,256.3 381.2,255.1 380.1,254.0 379.0,256.1 377.9,255.2 376.8,253.8 375.7,253.8 374.6,254.9 373.5,255.6 372.4,256.1 371.3,255.7 370.2,256.7 369.1,255.9 368.0,255.3 366.9,254.6 365.8,254.8 364.7,255.4 363.6,253.8 362.5,254.1 361.4,256.0 360.3,256.5 359.2,255.9 358.1,254.7 357.0,254.9 355.9,254.7 354.8,255.0 353.7,256.9 352.6,254.7 351.5,254.1 350.4,253.7 349.3,253.1 348.2,255.6 347.1,254.2 346.0,254.1 344.9,254.0 343.8,254.6 342.7,255.6 341.6,255.9 340.5,255.1 339.4,256.9 338.3,254.1 337.2,254.6 336.1,254.6 335.0,255.1 333.9,256.3 332.8,255.4 331.7,256.0 330.6,255.9 329.5,254.0 328.4,254.8 327.3,255.4 326.2,253.6 325.1,254.7 324.0,254.6 322.9,255.3 321.8,254.3 320.7,252.1 319.6,252.4 318.5,252.2 317.4,253.5 316.3,254.1 315.2,254.7 314.1,256.6 313.0,254.4 311.9,254.0 310.8,253.2 309.7,253.6 308.6,255.0 307.5,254.2 306.4,255.3 305.3,256.2 304.2,254.6 303.1,254.7 302.0,254.3 300.9,251.9 299.8,253.7 298.7,254.4 297.6,253.5 296.5,254.6 295.4,254.5 294.3,254.1 293.2,255.3 292.1,252.6 291.0,253.6 289.9,252.1 288.8,254.2 287.7,253.0 286.6,254.2 285.5,254.7 284.4,253.3 283.3,253.7 282.2,254.1 281.1,253.8 280.0,253.9 278.9,254.1 277.8,254.6 276.7,252.5 275.6,251.3 274.5,252.1 273.4,253.2 272.3,254.0 271.2,253.9 270.1,253.9 269.0,253.3 267.9,252.8 266.8,251.7 265.7,251.6 264.6,251.2 263.5,253.2 262.4,253.2 261.3,255.5 260.2,253.0 259.1,253.8 258.0,253.6 256.9,251.8 255.8,252.9 254.7,254.3 253.6,253.9 252.5,253.8 251.4,254.4 250.3,254.6 249.2,253.4 248.1,253.9 247.0,254.1 245.9,255.0 244.8,254.1 243.7,255.1 242.6,253.8 241.5,254.8 240.4,253.6 239.3,253.9 238.2,254.5 237.1,254.9 236.0,254.5 234.9,254.6 233.8,254.9 232.7,252.7 231.6,256.4 230.5,257.5 229.4,255.1 228.3,254.8 227.2,252.8 226.1,253.1 225.0,254.6 223.9,254.6 222.8,254.4 221.7,253.9 220.6,254.4 219.5,255.1 218.4,252.5 217.3,254.8 216.2,253.4 215.1,252.8 214.0,253.1 212.9,253.4 211.8,253.2 210.7,251.8 209.6,253.1 208.5,252.5 207.4,253.3 206.3,255.0 205.2,254.2 204.1,253.7 203.0,254.7 201.9,254.4 200.8,252.7 199.7,252.8 198.6,254.1 197.5,255.8 196.4,256.0 195.3,254.4 194.2,253.4 193.1,254.4 192.0,256.0 190.9,254.6 189.8,254.8 188.7,254.8 187.6,254.7 186.5,255.0 185.4,252.2 184.3,254.2 183.2,251.6 182.1,255.4 181.0,252.2 179.9,255.6 178.8,253.9 177.7,255.8 176.6,255.8 175.5,257.3 174.4,254.4 173.3,254.2 172.2,254.9 171.1,257.8 170.0,254.8 168.9,255.5 167.8,256.2 166.7,255.1 165.6,254.0 164.5,255.0 163.4,255.4 162.3,254.0 161.2,253.0 160.1,253.7 159.0,253.9 157.9,255.6 156.8,253.9 155.7,254.6 154.6,253.6 153.5,254.6 152.4,254.2 151.3,254.4 150.2,253.2 149.8,253.0 149.4,253.2 149.0,254.6 148.6,253.5 148.2,252.0 147.8,253.5 147.4,253.4 147.0,254.1 146.6,255.4 146.2,253.6 145.8,253.6 145.4,252.9 145.0,255.5 144.6,253.9 144.2,253.8 143.8,253.2 143.4,254.1 143.0,253.3 142.6,253.0 142.2,252.0 141.8,250.5 141.4,251.2 141.0,250.1 140.6,250.9 140.2,249.1 139.8,250.4 139.4,250.0 139.0,249.1 138.6,249.2 138.2,250.6 137.8,252.0 137.4,251.4 137.0,251.8 136.6,256.3 136.2,256.7 135.8,258.8 135.4,261.5 135.0,263.0 134.6,262.8 134.2,263.6 133.8,262.6 133.4,262.6 133.0,262.4 132.6,260.6 132.2,263.1 131.8,261.6 131.4,259.7 131.0,260.2 130.6,260.5 130.2,259.1 129.8,259.3 129.4,258.6 129.0,259.2 128.6,258.0 128.2,259.1 127.8,257.4 127.4,257.7 127.0,257.6 126.6,257.2 126.2,256.2 125.8,257.4 125.4,256.3 125.0,255.0 124.6,256.8 124.2,255.7 123.8,255.2 123.4,254.6 123.0,256.5 122.6,256.7 122.2,253.8 121.8,254.6 121.4,255.2 121.0,254.3 120.6,254.4 120.2,254.6 119.8,254.0 119.4,253.7 119.0,253.4"/>
<line x1="493" y1="249.6" x2="521.5" y2="249.6" stroke="#3a3aa8" stroke-width="1.6"/>
<polyline fill="none" stroke="#6e6a14" stroke-width="1.6" points="496.5,238 496.5,249.6"/>
</g>
<g stroke="#767676" stroke-width="1.3"><line x1="119.8" y1="275" x2="119.8" y2="279"/><line x1="197.0" y1="275" x2="197.0" y2="279"/><line x1="274.2" y1="275" x2="274.2" y2="279"/><line x1="351.4" y1="275" x2="351.4" y2="279"/><line x1="428.6" y1="275" x2="428.6" y2="279"/><line x1="505.8" y1="275" x2="505.8" y2="279"/><line x1="96" y1="249.6" x2="100" y2="249.6"/><line x1="96" y1="201.7" x2="100" y2="201.7"/><line x1="96" y1="153.8" x2="100" y2="153.8"/><line x1="96" y1="105.8" x2="100" y2="105.8"/><line x1="96" y1="57.9" x2="100" y2="57.9"/></g>
<rect x="100" y="29.2" width="441.1" height="246" fill="none" stroke="#767676" stroke-width="2"/>
<rect x="292.5" y="37.8" width="240" height="76.5" rx="4" fill="#fff" fill-opacity="0.92" stroke="#d6d6d6" stroke-width="1"/>
<g stroke-width="2.2">
<line x1="297" y1="51.1" x2="333.2" y2="51.1" stroke="#ff6464"/>
<line x1="297" y1="74.7" x2="333.2" y2="74.7" stroke="#46ad64"/>
<line x1="297" y1="99.6" x2="333.2" y2="99.6" stroke="#6e6eff"/>
</g>
<g font-size="16.5" fill="#111">
<text x="345.5" y="56.5">Before active regeneration</text>
<text x="345.5" y="81">After active regeneration</text>
<text x="344.2" y="105.2">Difference</text>
</g>
<g font-size="18.5" font-weight="bold" fill="#000" stroke="#000" stroke-width="0.3"><text x="119.8" y="300.2" text-anchor="middle">0</text><text x="197.0" y="300.2" text-anchor="middle">25</text><text x="274.2" y="300.2" text-anchor="middle">50</text><text x="351.4" y="300.2" text-anchor="middle">75</text><text x="428.6" y="300.2" text-anchor="middle">100</text><text x="505.8" y="300.2" text-anchor="middle">125</text><text x="89.3" y="255.6" text-anchor="end">0.0</text><text x="89.3" y="208.4" text-anchor="end">0.2</text><text x="89.3" y="161.1" text-anchor="end">0.4</text><text x="89.3" y="113.7" text-anchor="end">0.6</text><text x="89.3" y="65.7" text-anchor="end">0.8</text></g>
<g font-weight="bold"><text x="104.9" y="22.3" font-size="25">×</text><text x="119.2" y="20.7" font-size="20">10</text><text x="140.3" y="14.1" font-size="14">-3</text></g>
<text x="322.2" y="324.9" font-size="23.6" text-anchor="middle">Distance mm</text>
<g font-size="23.9" font-weight="bold" stroke="#000" stroke-width="0.35">
<text transform="translate(23.2,150.7) rotate(-90)" text-anchor="middle" font-size="23.7">Ash transfer amount</text>
<text transform="translate(51.6,150.8) rotate(-90)" text-anchor="middle">g/(φ25.4mm<tspan font-size="27">×</tspan><tspan font-size="22.6">30μm)</tspan></text>
</g>
<polygon points="96.8,343 124.7,315.9 124.7,329.4 535.3,329.4 535.3,356.3 124.7,356.3 124.7,370" fill="#2394d3"/>
<text x="318.6" y="349.8" font-size="21.2" font-weight="bold" text-anchor="middle">Gas flow direction</text>
</svg>
</body></html>
